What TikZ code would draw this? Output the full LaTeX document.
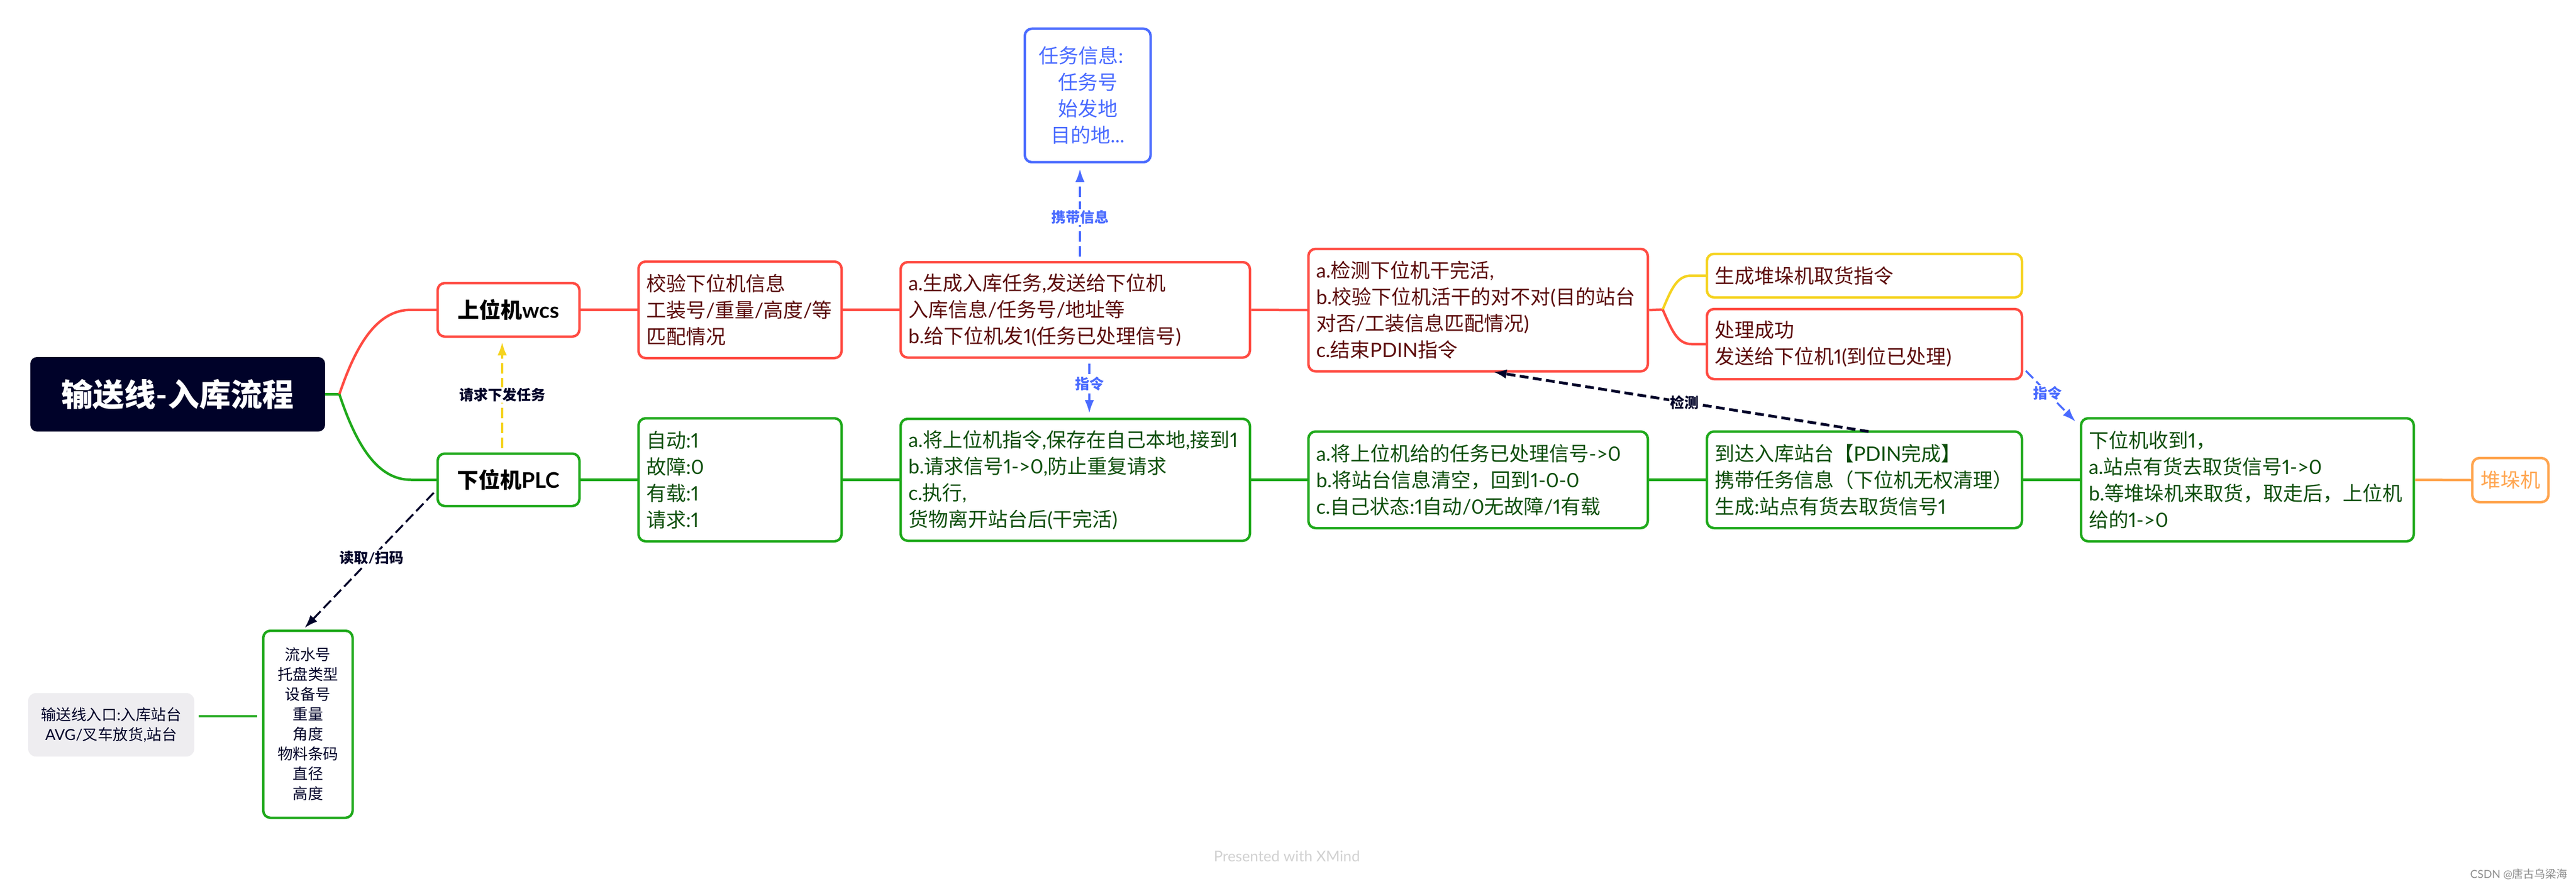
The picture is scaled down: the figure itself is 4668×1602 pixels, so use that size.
\documentclass[tikz,border=0pt]{standalone}
\usepackage{fontspec}
\usetikzlibrary{arrows.meta}
\setmainfont{Lato}[Numbers=Proportional]
\newfontfamily\latf{Lato}[Numbers=Proportional]
\newfontfamily\cjkf{Noto Sans CJK SC}
% automatic switch between Latin and CJK faces
\XeTeXinterchartokenstate=1
\newXeTeXintercharclass\cjkclass
\newcount\cjkcnt
\def\cjkrange#1#2{\cjkcnt=#1 \loop\XeTeXcharclass\cjkcnt=\cjkclass \ifnum\cjkcnt<#2 \advance\cjkcnt by 1 \repeat}
\cjkrange{"4E00}{"9FFF}
\cjkrange{"3000}{"303F}
\cjkrange{"FF00}{"FFEF}
\XeTeXinterchartoks 0 \cjkclass={\cjkf}
\XeTeXinterchartoks \cjkclass 0={\latf}
\XeTeXinterchartoks 4095 \cjkclass={\cjkf}
\XeTeXinterchartoks 4095 0={\latf}
\definecolor{cred}{HTML}{FF4B42}
\definecolor{cgreen}{HTML}{1FA91B}
\definecolor{cyellow}{HTML}{F5D31F}
\definecolor{cblue}{HTML}{4A6BFF}
\definecolor{corange}{HTML}{FFA54F}
\definecolor{cnavy}{HTML}{000229}
\definecolor{tred}{HTML}{5C0B0B}
\definecolor{tgreen}{HTML}{0E4F0C}
\definecolor{cgray}{HTML}{EEEDF0}
\tikzset{
  x=1pt,y=-1pt,
  box/.style={draw,line width=4.5pt,rounded corners=13pt,fill=white,inner sep=0pt,inner xsep=14pt,align=left,font=\fontsize{36}{48}\selectfont},
  redbox/.style={box,draw=cred,text=tred},
  greenbox/.style={box,draw=cgreen,text=tgreen},
  centerbox/.style={box,align=center,inner xsep=0pt},
  small/.style={font=\fontsize{27.5}{36}\selectfont,text=cnavy},
  wire/.style={line width=4.5pt},
  link/.style={line width=3.5pt,dash pattern=on 19pt off 8pt,-{Latex[length=24pt,width=17pt]}},
  lab/.style={fill=white,inner sep=2pt,font=\fontsize{26}{30}\selectfont\bfseries},
}
\begin{document}
\begin{tikzpicture}
\useasboundingbox (0,0) rectangle (4668,1602);
\node[fill=cnavy,rounded corners=12pt,minimum width=534pt,minimum height=135pt,text=white,inner sep=0pt,font=\fontsize{57}{60}\selectfont\bfseries] (root) at (322,714.5) {输送线-入库流程};
\node[redbox,centerbox,text=black,minimum width=257pt,minimum height=97pt,font=\fontsize{39}{48}\selectfont\bfseries] (up) at (921.5,561.5) {上位机wcs};
\node[greenbox,centerbox,text=black,minimum width=257pt,minimum height=95pt,font=\fontsize{39}{48}\selectfont\bfseries] (low) at (921.5,869.5) {下位机PLC};
\node[redbox,minimum width=368pt,minimum height=175pt,text width=340pt] (chk) at (1341,561.5) {校验下位机信息\\工装号/重量/高度/等\\匹配情况};
\node[greenbox,minimum width=368pt,minimum height=223pt,text width=340pt] (auto) at (1341,869.5) {自动:1\\故障:0\\有载:1\\请求:1};
\node[redbox,minimum width=633pt,minimum height=173pt,text width=605pt] (gen) at (1948.5,561.5) {a.生成入库任务,发送给下位机\\入库信息/任务号/地址等\\b.给下位机发1(任务已处理信号)};
\node[greenbox,minimum width=633pt,minimum height=221pt,text width=605pt] (store) at (1948.5,869.5) {a.将上位机指令,保存在自己本地,接到1\\b.请求信号1->0,防止重复请求\\c.执行,\\货物离开站台后(干完活)};
\node[redbox,minimum width=615pt,minimum height=222pt,text width=587pt] (check) at (2678.5,562) {a.检测下位机干完活,\\b.校验下位机活干的对不对(目的站台\\对否/工装信息匹配情况)\\c.结束PDIN指令};
\node[greenbox,minimum width=615pt,minimum height=175pt,text width=587pt] (clear) at (2678.5,869.5) {a.将上位机给的任务已处理信号->0\\b.将站台信息清空，回到1-0-0\\c.自己状态:1自动/0无故障/1有载};
\node[box,draw=cyellow,text=tred,minimum width=571pt,minimum height=79pt,text width=543pt] (pick) at (3378.5,499.5) {生成堆垛机取货指令};
\node[redbox,minimum width=571pt,minimum height=127pt,text width=543pt] (okay) at (3378.5,623.5) {处理成功\\发送给下位机1(到位已处理)};
\node[greenbox,minimum width=571pt,minimum height=175pt,text width=543pt] (arrive) at (3378.5,869.5) {到达入库站台【PDIN完成】\\携带任务信息（下位机无权清理）\\生成:站点有货去取货信号1};
\node[greenbox,minimum width=603pt,minimum height=223pt,text width=575pt] (recv) at (4072.5,869.5) {下位机收到1，\\a.站点有货去取货信号1->0\\b.等堆垛机来取货，取走后，上位机\\给的1->0};
\node[box,draw=corange,text=corange,centerbox,minimum width=138pt,minimum height=80pt] (stacker) at (4549,870) {堆垛机};
\node[box,draw=cblue,text=cblue,centerbox,minimum width=228pt,minimum height=242pt] (info) at (1971,173) {任务信息:\rule{24pt}{0pt}\\任务号\\始发地\\目的地...};
\node[box,draw=cgreen,centerbox,small,minimum width=162pt,minimum height=339pt] (list) at (558,1312.5) {流水号\\托盘类型\\设备号\\重量\\角度\\物料条码\\直径\\高度};
\node[fill=cgray,rounded corners=14pt,small,align=center,inner sep=0pt,minimum width=301pt,minimum height=115pt] (gray) at (201.5,1313.5) {输送线入口:入库站台\\AVG/叉车放货,站台};
\node[font=\fontsize{27}{30}\selectfont,text=black!18] (mark) at (2332,1552) {Presented with XMind};
\node[font=\fontsize{20}{24}\selectfont,text=black!45,anchor=east,inner sep=0pt] (csdn) at (4653,1584) {CSDN @唐古乌梁海};

% tree wires
\coordinate (rootj) at (615,714.5);
\coordinate (checkj) at (3013,561);
\draw[wire,cgreen] (root.east) -- (rootj);
\draw[wire,cred] (rootj) .. controls (650,610) and (690,561.5) .. (745,561.5) -- (up.west);
\draw[wire,cgreen] (rootj) .. controls (650,820) and (690,869.5) .. (745,869.5) -- (low.west);
\draw[wire,cred] (up.east) -- (chk.west);
\draw[wire,cred] (chk.east) -- (gen.west);
\draw[wire,cred] (gen.east) -- (check.west);
\draw[wire,cred] (check.east) -- (checkj);
\draw[wire,cyellow] (checkj) .. controls (3030,520) and (3040,499.5) .. (3065,499.5) -- (pick.west);
\draw[wire,cred] (checkj) .. controls (3030,600) and (3040,623.5) .. (3065,623.5) -- (okay.west);
\draw[wire,cgreen] (low.east) -- (auto.west);
\draw[wire,cgreen] (auto.east) -- (store.west);
\draw[wire,cgreen] (store.east) -- (clear.west);
\draw[wire,cgreen] (clear.east) -- (arrive.west);
\draw[wire,cgreen] (arrive.east) -- (recv.west);
\draw[wire,corange] (recv.east) -- (stacker.west);
\draw[wire,cgreen,shorten >=9pt,shorten <=8pt] (gray.east |- 0,1298) -- (list.west |- 0,1298);

% dashed relations
\coordinate (s1) at (910,812); \coordinate (e1) at (910,620);
\draw[link,cyellow] (s1) -- node[lab,text=cnavy]{请求下发任务} (e1);
\coordinate (s2) at (786,893); \coordinate (e2) at (552,1138);
\draw[link,cnavy] (s2) -- node[lab,text=cnavy,pos=.48]{读取/扫码} (e2);
\coordinate (s3) at (1957,465); \coordinate (e3) at (1957,306);
\draw[link,cblue] (s3) -- node[lab,text=cblue,pos=.45]{携带信息} (e3);
\coordinate (s4) at (1974,659); \coordinate (e4) at (1974,749);
\draw[link,cblue] (s4) -- node[lab,text=cblue,pos=.41]{指令} (e4);
\coordinate (s5) at (3386,782); \coordinate (e5) at (2706,674);
\draw[link,cnavy,line width=5pt,dash pattern=on 16pt off 8pt] (s5) -- node[lab,text=cnavy,pos=.49]{检测} (e5);
\coordinate (s6) at (3671,672); \coordinate (e6) at (3761,764);
\draw[link,cblue] (s6) -- node[lab,text=cblue,pos=.44]{指令} (e6);
\end{tikzpicture}
\end{document}
